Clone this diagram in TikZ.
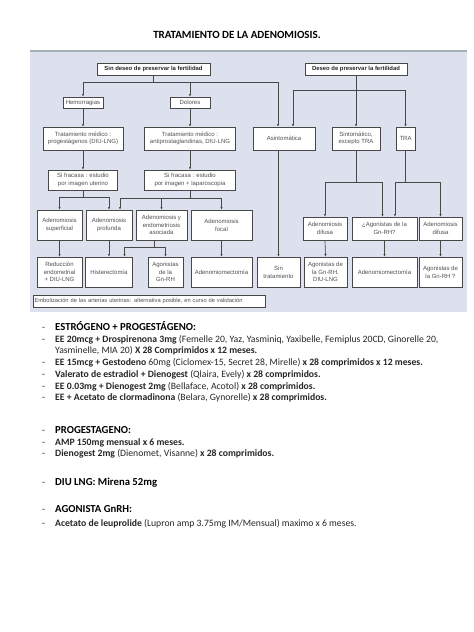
\documentclass[tikz,border=0pt]{standalone}
\usepackage{fontspec}
\setmainfont{Carlito}
\newfontfamily\boxfont{Liberation Sans}
\usepackage{xcolor}
\usepackage{tikz}
\usetikzlibrary{arrows.meta}
\definecolor{panelc}{RGB}{221,225,237}
\definecolor{linec}{RGB}{72,72,72}
\definecolor{boxtxt}{RGB}{80,80,80}
\definecolor{rulec}{RGB}{165,174,182}

\tikzset{
  box/.style={draw=linec,line width=0.8pt,fill=white,inner sep=1pt,align=center,text=boxtxt,font=\boxfont\fontsize{6}{7.8}\selectfont},
  topbox/.style={box,text=black!85,font=\boxfont\bfseries\fontsize{5.9}{7}\selectfont},
  arr/.style={draw=linec,line width=0.7pt,-{Latex[length=2.6pt,width=2.4pt]}},
  bul/.style={anchor=base west,inner sep=0pt,font=\fontsize{9.7}{11}\selectfont,text=black!85},
  item/.style={anchor=base west,inner sep=0pt,font=\fontsize{9.7}{11}\selectfont,text=black!85},
  head/.style={anchor=base west,inner sep=0pt,font=\bfseries\fontsize{10.7}{12}\selectfont}
}

\begin{document}
\begin{tikzpicture}[x=1pt,y=1pt,yscale=-1,xscale=1]
\useasboundingbox (0,0) rectangle (474,632);
\fill[white] (0,0) rectangle (474,632);

% title
\draw (237,38.5) node [anchor=base,font=\bfseries\fontsize{11}{13}\selectfont] (title) {TRATAMIENTO DE LA ADENOMIOSIS.};

% panel
\fill[panelc] (30,52) rectangle (467,312);
\draw[rulec,line width=2pt] (30,50.5) -- (467,50.5);

% first rows
\draw (153.5,69) node [topbox,minimum width=113,minimum height=12] (sin) {Sin deseo de preservar la fertilidad};
\draw (356,69) node [topbox,minimum width=102,minimum height=12] (des) {Deseo de preservar la fertilidad};
\draw (83,102.5) node [box,minimum width=40,minimum height=11] (hem) {Hemorragias};
\draw (190,102.5) node [box,minimum width=40,minimum height=11] (dol) {Dolores};

\draw (83,138.5) node [box,minimum width=80,minimum height=23] (tm1) {Tratamiento médico :\\progestágenos (DIU-LNG)};
\draw (190,138.5) node [box,minimum width=91,minimum height=23] (tm2) {Tratamiento médico :\\antiprostaglandinas, DIU-LNG};
\draw (284,138.5) node [box,minimum width=62,minimum height=23] (asi) {Asintomática};
\draw (356,138.5) node [box,minimum width=48,minimum height=23] (sint) {Sintomático,\\excepto TRA};
\draw (405.5,138.5) node [box,minimum width=19,minimum height=23] (tra) {TRA};

\draw (83,180) node [box,minimum width=69,minimum height=20] (sf1) {Si fracasa : estudio\\por imagen uterino};
\draw (190,180) node [box,minimum width=91,minimum height=20] (sf2) {Si fracasa : estudio\\por imagen + laparoscopia};

% adenomiosis types
\draw (59.5,225) node [box,minimum width=45,minimum height=30] (sup) {Adenomiosis\\superficial};
\draw (109,225) node [box,minimum width=46,minimum height=30] (pro) {Adenomiosis\\profunda};
\draw (161.5,225) node [box,minimum width=51,minimum height=30] (aso) {Adenomiosis y\\endometriosis\\asociada};
\draw (221.5,225) node [box,minimum width=61,minimum height=30] (foc) {Adenomiosis\\focal};
\draw (325,228.5) node [box,minimum width=44,minimum height=23] (dif1) {Adenomiosis\\difusa};
\draw (384.5,228.5) node [box,minimum width=65,minimum height=23] (ago1) {¿Agonistas de la\\Gn-RH?};
\draw (440.5,228.5) node [box,minimum width=43,minimum height=23] (dif2) {Adenomiosis\\difusa};

% treatments
\draw (59.5,272) node [box,minimum width=45,minimum height=30] (red) {Reducción\\endometrial\\+ DIU-LNG};
\draw (109,272) node [box,minimum width=47,minimum height=30] (his) {Histerectomía};
\draw (165.5,272) node [box,minimum width=35,minimum height=30] (ago2) {Agonistas\\de la\\Gn-RH};
\draw (221.5,272) node [box,minimum width=61,minimum height=30] (adm1) {Adenomiomectomía};
\draw (278.5,272) node [box,minimum width=43,minimum height=30] (sint2) {Sin\\tratamiento};
\draw (325.5,272) node [box,minimum width=43,minimum height=30] (ago3) {Agonistas de\\la Gn-RH,\\DIU-LNG};
\draw (384.5,272) node [box,minimum width=65,minimum height=30] (adm2) {Adenomiomectomía};
\draw (440.5,272) node [box,minimum width=43,minimum height=30] (ago4) {Agonistas de\\la Gn-RH ?};

\draw (149,301) node [box,minimum width=232,minimum height=12,align=left,text width=229,font=\boxfont\fontsize{5.75}{7}\selectfont] (emb) {Embolización de las arterias uterinas: alternativa posible, en curso de validación};

% connectors
\draw[arr] (sin.south) -- ++(0,7) -| (hem.north);
\draw[arr] (sin.south) -- ++(0,7) -| (dol.north);
\draw[arr] (sin.south) -- ++(0,7) -| ([xshift=-6pt]asi.north);
\draw[arr] (des.south) -- ++(0,15) -| ([xshift=9pt]asi.north);
\draw[arr] (des.south) -- (sint.north);
\draw[arr] (des.south) -- ++(0,15) -| (tra.north);

\draw[arr] (hem.south) -- (tm1.north);
\draw[arr] (tm1.south) -- (sf1.north);
\draw[arr] (dol.south) -- (tm2.north);
\draw[arr] (tm2.south) -- (sf2.north);

\draw[arr] (sf1.south) -- ++(0,7) -| (sup.north);
\draw[arr] (sf1.south) -- ++(0,7) -| (pro.north);
\draw[arr] (sf2.south) -- ++(0,8) -| ([xshift=11pt]pro.north);
\draw[arr] (sf2.south) -- ++(0,8) -| (aso.north);
\draw[arr] (sf2.south) -- ++(0,8) -| (foc.north);

\draw[arr] (sup.south) -- (red.north);
\draw[arr] (pro.south) -- (his.north);
\draw[arr] ([xshift=-7.5pt]aso.south) -- ++(0,7) -| ([xshift=15.5pt]his.north);
\draw[arr] ([xshift=-7.5pt]aso.south) -- ++(0,7) -| (ago2.north);
\draw[arr] (foc.south) -- (adm1.north);
\draw[arr] (sint2 |- asi.south) -- (sint2.north);

\draw[arr] (sint.south) -- ++(0,32) -| (dif1.north);
\draw[arr] (sint.south) -- ++(0,32) -| ([xshift=-2pt]ago1.north);
\draw[arr] (tra.south) -- ++(0,32) -| ([xshift=10.5pt]ago1.north);
\draw[arr] (tra.south) -- ++(0,32) -| (dif2.north);
\draw[arr] (dif1.south) -- (ago3.north);
\draw[arr] (ago1.south) -- (adm2.north);
\draw[arr] (dif2.south) -- (ago4.north);

% list below
\foreach \y in {330,342,365,377,389,400,433,445,456,485,512,526}
  \draw (42,\y) node [bul] (bul\y) {-};

\draw (55,330) node [head] (h1) {ESTRÓGENO + PROGESTÁGENO:};
\draw (55,342) node [item] (l1) {\textbf{EE 20mcg + Drospirenona 3mg} (Femelle 20, Yaz, Yasminiq, Yaxibelle, Femiplus 20CD, Ginorelle 20,};
\draw (55,353) node [item] (l1b) {Yasminelle, MIA 20) \textbf{X 28 Comprimidos x 12 meses.}};
\draw (55,365) node [item] (l2) {\textbf{EE 15mcg + Gestodeno} 60mg (Ciclomex-15, Secret 28, Mirelle) \textbf{x 28 comprimidos x 12 meses.}};
\draw (55,377) node [item] (l3) {\textbf{Valerato de estradiol + Dienogest} (Qlaira, Evely) \textbf{x 28 comprimidos.}};
\draw (55,389) node [item] (l4) {\textbf{EE 0.03mg + Dienogest 2mg} (Bellaface, Acotol) \textbf{x 28 comprimidos.}};
\draw (55,400) node [item] (l5) {\textbf{EE + Acetato de clormadinona} (Belara, Gynorelle) \textbf{x 28 comprimidos.}};

\draw (55,433) node [head] (h2) {PROGESTAGENO:};
\draw (55,445) node [item] (l6) {\textbf{AMP 150mg mensual x 6 meses.}};
\draw (55,456) node [item] (l7) {\textbf{Dienogest 2mg} (Dienomet, Visanne) \textbf{x 28 comprimidos.}};

\draw (55,485) node [head] (h3) {DIU LNG: Mirena 52mg};

\draw (55,512) node [head] (h4) {AGONISTA GnRH:};
\draw (55,526) node [item] (l8) {\textbf{Acetato de leuprolide} (Lupron amp 3.75mg IM/Mensual) maximo x 6 meses.};

\end{tikzpicture}
\end{document}
